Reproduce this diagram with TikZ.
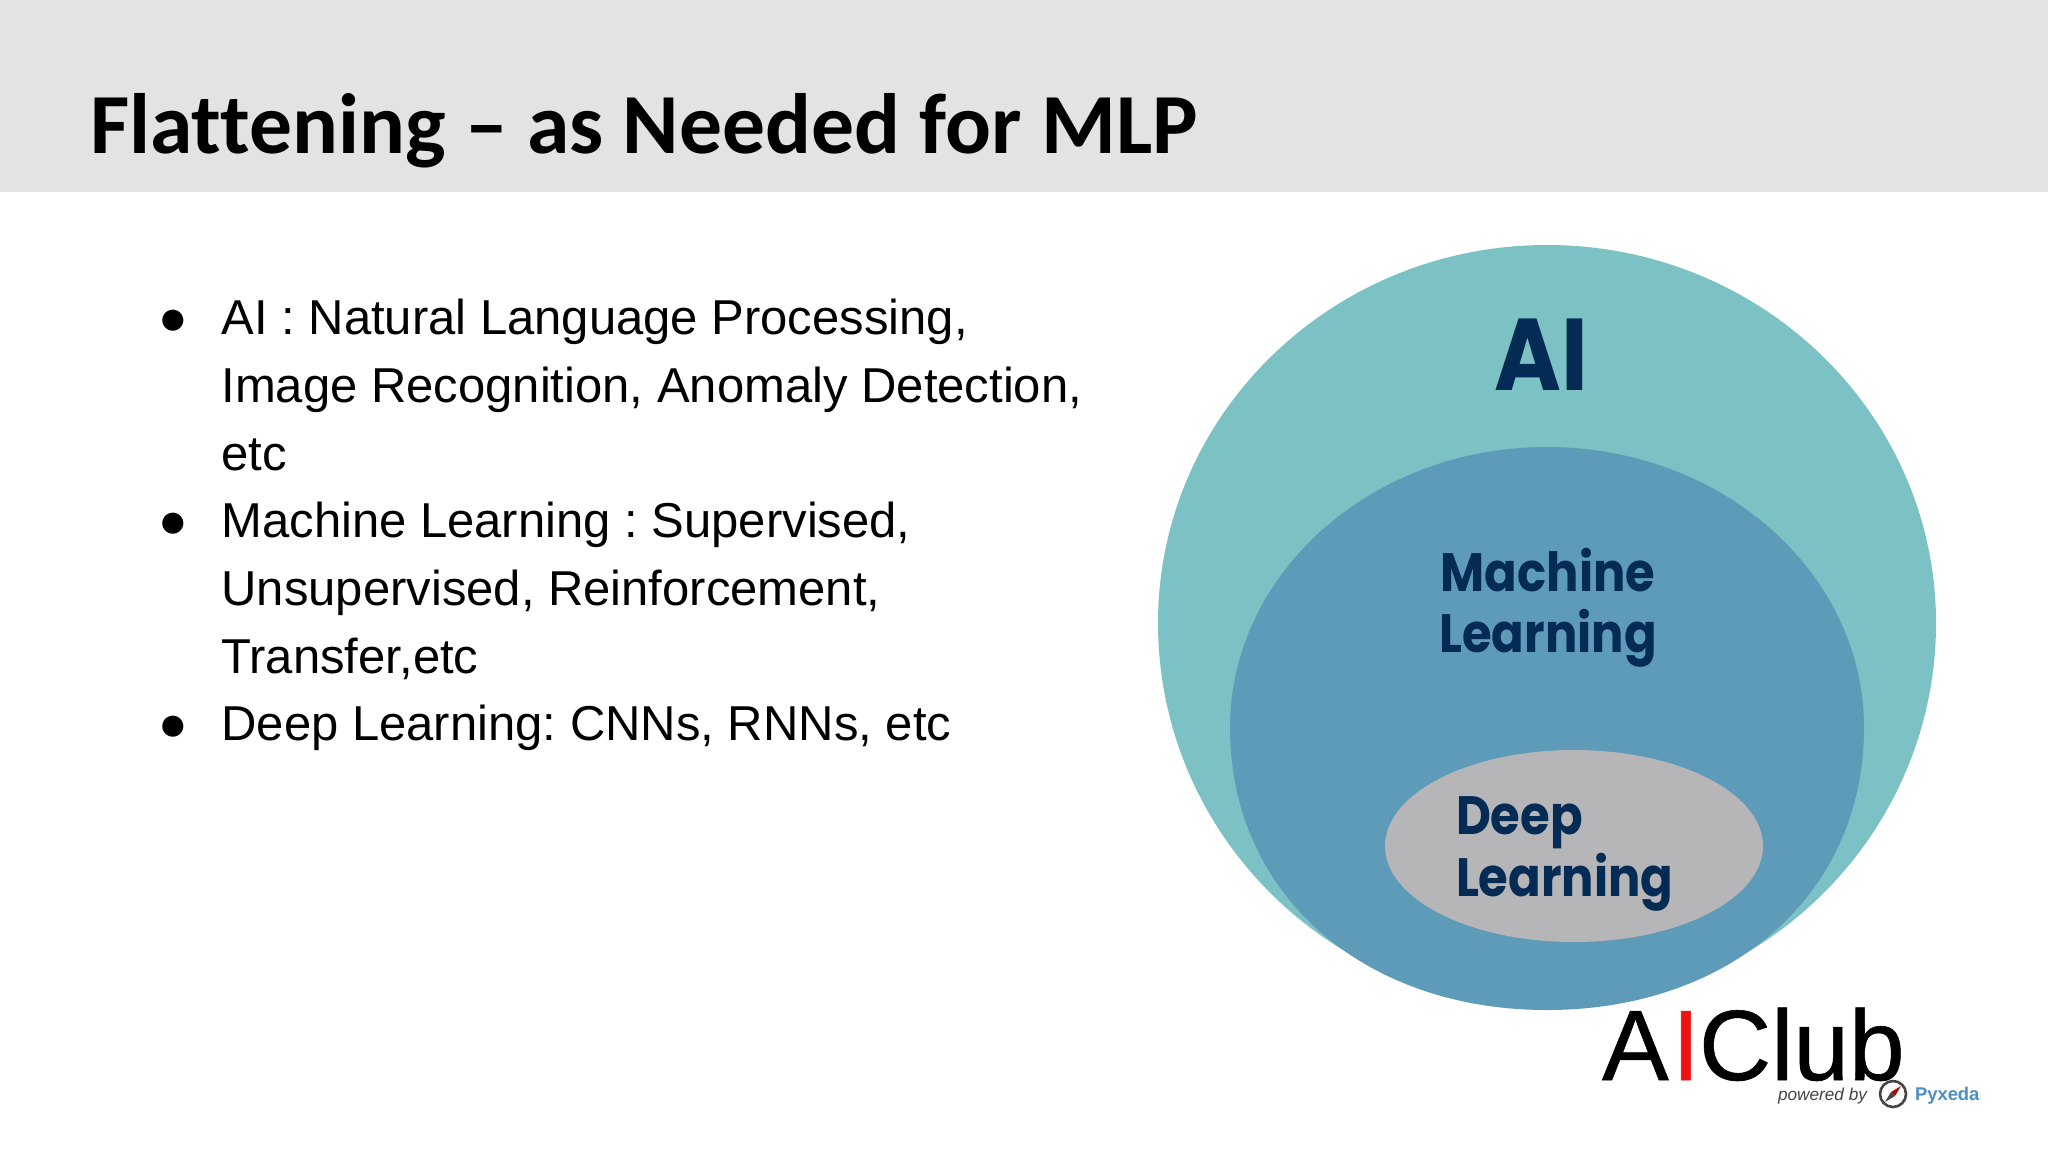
\documentclass[tikz,border=0pt]{standalone}
\usepackage{fontspec}
\setmainfont{Liberation Sans}
\newfontfamily\titlefont{Carlito}[UprightFont=* Bold,Ligatures=NoCommon]
\newfontfamily\roundfont{Poppins}[UprightFont=* Bold,FakeStretch=0.89]
\newfontfamily\logofont{Liberation Sans}[FakeBold=0.6]
\definecolor{headbg}{HTML}{E3E3E3}
\definecolor{aiteal}{HTML}{7CC1C3}
\definecolor{mlblue}{HTML}{5D9BB9}
\definecolor{dlgrey}{HTML}{B6B5B8}
\definecolor{navy}{HTML}{032B54}
\definecolor{logored}{HTML}{EE1111}
\definecolor{pyx}{HTML}{4F8FC0}
\definecolor{pwr}{HTML}{444444}
\tikzset{
  x=0.5pt,y=-0.5pt,
  lab/.style={inner sep=0pt,outer sep=0pt,anchor=base west},
  titletext/.style={lab,font=\titlefont\fontsize{42.8}{50}\selectfont,text=black},
  bodytext/.style={lab,font=\frenchspacing\fontsize{24.5}{30}\selectfont,text=black},
  bulletmark/.style={lab,anchor=base,font=\fontsize{24.5}{30}\selectfont,text=black},
  venn/.style={lab,anchor=base,font=\roundfont\fontsize{27}{32}\selectfont,text=navy},
  vennl/.style={lab,font=\roundfont\fontsize{27}{32}\selectfont,text=navy},
  logotext/.style={lab,font=\logofont\fontsize{50}{60}\selectfont,text=black},
}
\begin{document}
\begin{tikzpicture}
\useasboundingbox (0,0) rectangle (2048,1152);
\fill[white] (0,0) rectangle (2048,1152);
\fill[headbg] (0,0) rectangle (2048,192);
\node[titletext] (title) at (90,153) {Flattening – as Needed for MLP};

\node[bulletmark] (b1) at (173,334) {●};
\node[bodytext] (l1) at (221.5,334) {AI : Natural Language Processing,};
\node[bodytext] (l2) at (221.5,402) {Image Recognition, Anomaly Detection,};
\node[bodytext] (l3) at (221.5,470) {etc};
\node[bulletmark] (b2) at (173,537) {●};
\node[bodytext] (l4) at (221.5,537) {Machine Learning : Supervised,};
\node[bodytext] (l5) at (221.5,605) {Unsupervised, Reinforcement,};
\node[bodytext] (l6) at (221.5,673) {Transfer,etc};
\node[bulletmark] (b3) at (173,740.5) {●};
\node[bodytext] (l7) at (221.5,740.5) {Deep Learning: CNNs, RNNs, etc};

\fill[aiteal] (1158,623) arc [start angle=180,end angle=360,x radius=389,y radius=378]
  arc [start angle=0,end angle=180,x radius=389,y radius=384] -- cycle;
\fill[mlblue] (1230,728) arc [start angle=180,end angle=360,x radius=317,y radius=281]
  .. controls (1864,893) and (1732,1010) .. (1547,1010)
  .. controls (1362,1010) and (1230,893) .. (1230,728) -- cycle;
\fill[dlgrey] (1574,846) ellipse [x radius=189,y radius=96];

\node[venn,font=\roundfont\fontsize{51}{60}\selectfont] (ai) at (1541,390) {AI};
\node[venn] (ml1) at (1548,591) {Machine};
\node[venn] (ml2) at (1548,652) {Learning};
\node[vennl] (dl1) at (1456,834) {Deep};
\node[vennl] (dl2) at (1456,896) {Learning};

\node[logotext] (lg1) at (1602,1080) {A};
\node[logotext,text=logored] (lg2) at (1672,1080) {I};
\node[logotext] (lg3) at (1699,1080) {Club};
\node[lab,font=\itshape\fontsize{8.6}{11}\selectfont,text=pwr] (pw) at (1778,1100) {powered by};
\draw[pwr,line width=1.3pt,fill=white] (1893,1094) circle [radius=13] coordinate (cmp);
\fill[pwr] (1885,1102) -- (1891,1092) -- (1895,1096) -- cycle;
\fill[logored!70!black] (1901,1086) -- (1891,1092) -- (1895,1096) -- cycle;
\node[lab,font=\bfseries\fontsize{9.2}{11}\selectfont,text=pyx] (px) at (1915,1100) {Pyxeda};
\end{tikzpicture}
\end{document}
